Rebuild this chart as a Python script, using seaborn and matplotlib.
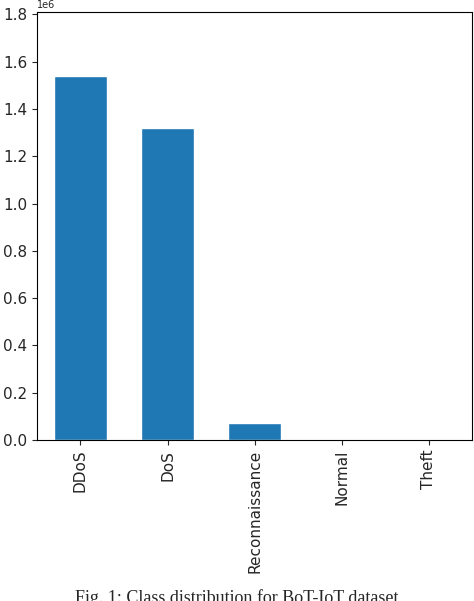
import matplotlib
matplotlib.use("Agg")
import matplotlib.pyplot as plt
import seaborn as sns
import pandas as pd

categories = ["DDoS", "DoS", "Reconnaissance", "Normal", "Theft"]
counts = [1541315, 1320148, 72919, 477, 79]

sns.set_style("ticks")
plt.rcParams['font.family'] = ['DejaVu Sans']
df = pd.DataFrame({"cat": categories, "n": counts})
fig = plt.figure(figsize=(4.74, 6.01), dpi=100)
ax = fig.add_axes([0.078, 0.268, 0.918, 0.712])
sns.barplot(data=df, x="cat", y="n", color="#1f77b4", saturation=1, width=0.6, ax=ax)
ax.set_xlabel(""); ax.set_ylabel("")
ax.set_ylim(0, 1.81e6)
ax.set_yticks([i*0.2e6 for i in range(10)])
ax.ticklabel_format(axis="y", style="sci", scilimits=(0, 0))
ax.yaxis.get_offset_text().set_fontsize(7)
ax.tick_params(axis="both", labelsize=11)
plt.setp(ax.get_xticklabels(), rotation=90)
for s in ax.spines.values():
    s.set_visible(True); s.set_color("black"); s.set_linewidth(0.8)
fig.text(0.5, -0.01, "Fig. 1: Class distribution for BoT-IoT dataset", ha="center",
         va="bottom", fontsize=13, family="Liberation Serif")
fig.savefig("out.png", dpi=100)
